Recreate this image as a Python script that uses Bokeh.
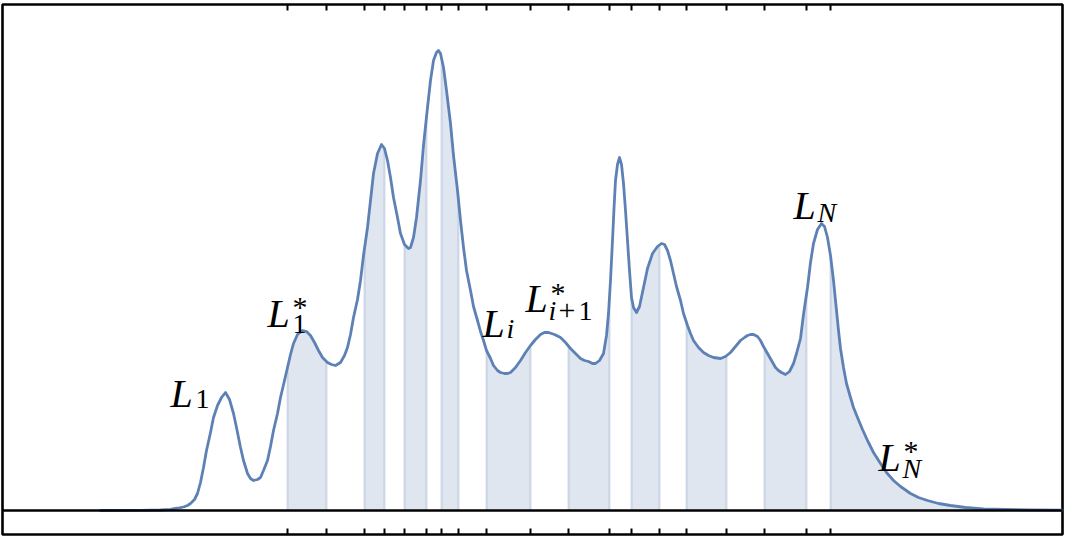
import numpy as np
from bokeh.plotting import figure
from bokeh.models import Range1d, Span, Label
from bokeh.embed import file_html
from bokeh.resources import INLINE

# ---- data (x position, height above baseline) ----
curve_x = [100, 140, 160, 170, 175, 179, 183, 187, 190, 194,
           197, 200, 203, 206, 210, 213, 217, 221, 225, 229,
           233, 236, 240, 243, 247, 250, 253, 257, 260, 263,
           267, 270, 273, 277, 280, 284, 287, 290, 293, 297,
           302, 306, 310, 314, 318, 322, 327, 331, 335, 340,
           344, 347, 350, 353, 357, 360, 363, 367, 370, 373,
           377, 381, 384, 387, 390, 393, 397, 400, 404, 408,
           410, 413, 416, 420, 423, 427, 430, 433, 436, 438,
           440, 443, 446, 450, 453, 457, 460, 463, 466, 470,
           473, 477, 480, 483, 486, 490, 493, 497, 500, 504,
           507, 510, 515, 520, 525, 530, 535, 540, 544, 548,
           554, 560, 565, 570, 575, 580, 584, 588, 592, 595,
           599, 603, 606, 608, 610, 612, 613.5, 615, 617, 619,
           621, 623, 625, 627, 629, 631, 633, 636, 639, 643,
           647, 652, 657, 661, 664, 667, 670, 673, 676, 680,
           683, 687, 690, 693, 698, 703, 708, 713, 720, 725,
           730, 735, 740, 744, 747, 750, 753, 757, 760, 763,
           767, 771, 775, 778, 781, 785, 789, 793, 796, 800,
           803, 807, 810, 813, 817, 821, 824, 827, 830, 833,
           835, 838, 840, 843, 846, 850, 853, 857, 862, 867,
           873, 880, 886, 893, 900, 910, 918, 927, 938, 950,
           965, 983, 1005, 1030, 1062]
curve_y = [0, 0.2, 0.5, 1.2, 2, 2.7, 3.5, 5, 7, 11,
           17, 28, 43, 60, 78, 93, 105, 113, 118, 111,
           97, 83, 63, 50, 37, 32, 30, 31, 33, 40,
           50, 64, 80, 97, 113, 130, 143, 156, 167, 176,
           180, 179, 175, 168, 160, 153, 148, 146, 145, 148,
           155, 163, 176, 193, 211, 230, 255, 283, 310, 337,
           357, 366, 362, 350, 333, 313, 293, 277, 266, 262,
           263, 273, 293, 330, 365, 403, 430, 450, 458, 460,
           457, 443, 420, 387, 355, 320, 290, 263, 240, 220,
           204, 190, 179, 170, 160, 152, 145, 140, 138, 137,
           137, 138, 143, 150, 158, 165, 171, 176, 178, 178,
           176, 173, 168, 162, 157, 152, 150, 149, 147, 147,
           150, 157, 175, 197, 230, 270, 302, 330, 346, 353,
           346, 327, 300, 270, 240, 213, 203, 198, 204, 223,
           242, 257, 264, 267, 266, 260, 250, 237, 224, 210,
           197, 185, 177, 170, 163, 158, 155, 153, 152, 154,
           158, 164, 170, 173, 175, 176, 176, 174, 170, 164,
           157, 150, 143, 140, 138, 136, 139, 147, 157, 172,
           196, 223, 248, 267, 281, 287, 284, 273, 255, 230,
           210, 180, 162, 143, 127, 113, 103, 93, 81, 70,
           58, 47, 38, 30, 24, 17, 13, 10, 7, 5,
           3, 1.7, 1, 0.7, 0.3]

band_start = [287, 364, 404, 441, 486, 568, 631, 686, 764, 830]
band_end = [326, 384, 426, 458, 530, 609, 659, 726, 806, 1062]

tick_positions = [287, 326, 364, 384, 404, 426, 441, 458, 486, 530,
                  568, 609, 631, 659, 686, 726, 764, 806, 830]

BLUE = "#5E81B5"
Y_LO, Y_HI = -24, 506
TICK = 6

p = figure(width=1064, height=536, output_backend="svg", toolbar_location=None,
           x_axis_type=None, y_axis_type=None,
           x_range=Range1d(2, 1062), y_range=Range1d(Y_LO, Y_HI),
           min_border=0, min_border_left=2, min_border_right=2,
           min_border_top=4, min_border_bottom=2,
           outline_line_color="black", outline_line_width=2.6)
p.grid.visible = False
p.background_fill_color = "white"
p.border_fill_color = "white"

cx = np.array(curve_x, dtype=float)
cy = np.array(curve_y, dtype=float)

# shaded bands under the curve
for a, b in zip(band_start, band_end):
    inner = cx[(cx > a) & (cx < b)]
    xs = np.concatenate([[a], inner, [b]])
    ys = np.interp(xs, cx, cy)
    p.varea(x=xs, y1=0, y2=ys, fill_color=BLUE, fill_alpha=0.2)

edge_x = list(tick_positions)
edge_top = list(np.interp(edge_x, cx, cy))
p.segment(x0=edge_x, y0=[0] * len(edge_x), x1=edge_x, y1=edge_top,
          line_color=BLUE, line_alpha=0.25, line_width=2)

p.line(curve_x, curve_y, line_color=BLUE, line_width=2.8,
       line_join="round", line_cap="round")

p.add_layout(Span(location=0, dimension="width", line_color="black", line_width=2.6))

# inward frame ticks, top and bottom
n = len(tick_positions)
p.segment(x0=tick_positions, y0=[Y_HI] * n, x1=tick_positions, y1=[Y_HI - TICK] * n,
          line_color="black", line_width=2)
p.segment(x0=tick_positions, y0=[Y_LO] * n, x1=tick_positions, y1=[Y_LO + TICK] * n,
          line_color="black", line_width=2)

FONT = "Liberation Serif"
MAIN = "40px"
SUB = "28px"
STAR = "30px"
pieces = [
    ("L", 170, 117, MAIN, "italic"), ("1", 195, 112, SUB, "normal"),
    ("L", 267, 197, MAIN, "italic"), ("*", 292, 204, STAR, "normal"), ("1", 292, 187, SUB, "normal"),
    ("L", 482, 187, MAIN, "italic"), ("i", 506, 182, SUB, "italic"),
    ("L", 525, 212, MAIN, "italic"), ("*", 550, 218, STAR, "normal"),
    ("i", 548, 200, SUB, "italic"), ("+", 558, 200, "30px", "normal"), ("1", 578, 200, SUB, "normal"),
    ("L", 793, 305, MAIN, "italic"), ("N", 817, 298, SUB, "italic"),
    ("L", 878, 53, MAIN, "italic"), ("*", 903, 60, STAR, "normal"), ("N", 902, 42, SUB, "italic"),
]
for txt, x, y, size, style in pieces:
    p.add_layout(Label(x=x, y=y, text=txt, text_font=FONT, text_font_size=size,
                       text_font_style=style, text_color="black",
                       text_baseline="alphabetic", text_align="left"))

open("out.html", "w").write(file_html(p, INLINE))
